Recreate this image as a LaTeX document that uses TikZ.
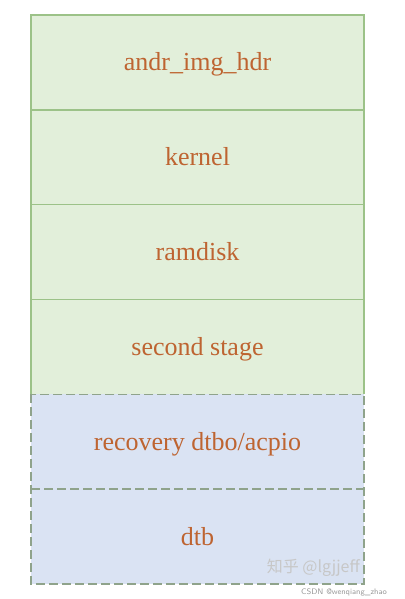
\documentclass[tikz,border=0pt]{standalone}
\usepackage{fontspec}
\setmainfont{Liberation Serif}
\newfontfamily\cjkfont{Noto Sans CJK SC}
\usetikzlibrary{positioning}

\definecolor{hdrfill}{HTML}{E2EFDA}
\definecolor{dtfill}{HTML}{DAE3F3}
\definecolor{hdrline}{HTML}{9CC288}
\definecolor{dtline}{HTML}{8FA38B}
\definecolor{segtext}{HTML}{BE6431}

\tikzset{
  seg/.style={minimum width=333pt, minimum height=94.83pt, inner sep=0pt,
    outer sep=0pt, text=segtext, text height=20pt, text depth=3pt,
    font=\fontsize{26}{30}\selectfont},
  solidseg/.style={seg, fill=hdrfill},
  dashseg/.style={seg, fill=dtfill},
  greenedge/.style={draw=hdrline, line width=1.6pt},
  dashedge/.style={draw=dtline, line width=1.6pt, dash pattern=on 9pt off 4pt}
}

\begin{document}
\begin{tikzpicture}[x=1pt, y=1pt, node distance=0pt]
  \useasboundingbox (0,0) rectangle (404,599);

  % image layout, top to bottom
  \node[solidseg] (hdr) at (197.5,536.6) {andr\_img\_hdr};
  \node[solidseg, below=of hdr] (kernel) {kernel};
  \node[solidseg, below=of kernel] (ramdisk) {ramdisk};
  \node[solidseg, below=of ramdisk] (stage) {second stage};
  \node[dashseg, below=of stage] (recov) {recovery dtbo/acpio};
  \node[dashseg, below=of recov] (dtb) {dtb};

  % outlines
  \draw[greenedge] (stage.south west) -- (hdr.north west) -- (hdr.north east) -- (stage.south east);
  \foreach \n in {hdr, kernel, ramdisk}
    \draw[greenedge] (\n.south west) -- (\n.south east);
  \draw[dashedge] (recov.north west) rectangle (dtb.south east);
  \draw[dashedge] (recov.south west) -- (recov.south east);

  % watermarks
  \node[anchor=south east, text=black!22, font=\cjkfont\fontsize{16}{18}\selectfont,
    inner sep=0pt] (zhihu) at (360,22) {知乎 @lgjjeff};
  \node[anchor=base west, text=black!40, font=\sffamily\fontsize{8}{9}\selectfont,
    inner sep=0pt] (csdn) at (301,5) {CSDN @wenqiang\_zhao};
\end{tikzpicture}
\end{document}
